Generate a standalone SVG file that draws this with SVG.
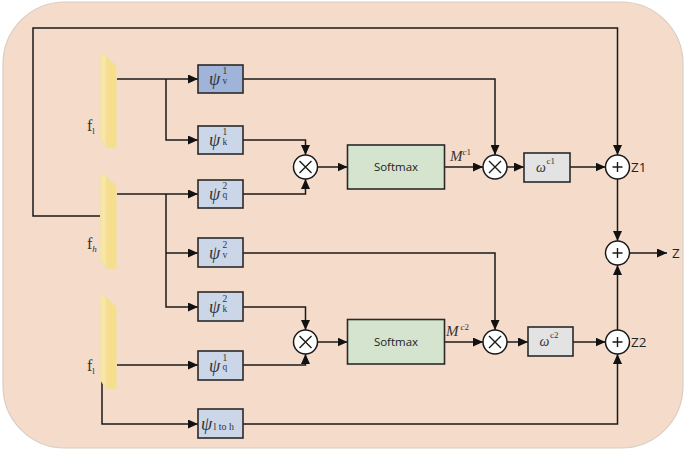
<svg xmlns="http://www.w3.org/2000/svg" width="685" height="451" viewBox="0 0 685 451">
<defs>
<marker id="ah" markerUnits="userSpaceOnUse" markerWidth="10" markerHeight="9" refX="10" refY="4.5" orient="auto" viewBox="0 0 10 9">
<path d="M0,0 L10,4.5 L0,9 Z" fill="#111"/>
</marker>
<style>
.bg{fill:#f5dbca;stroke:#d9cdc4;stroke-width:1.2}
.slab{fill:#f6de8c;stroke:#efe0ad;stroke-width:1}
.slabface{fill:#f9e6a2;stroke:#efe0ad;stroke-width:1}
.psi{fill:#cbd7e8;stroke:#2a2a2a;stroke-width:1.6}
.psid{fill:#9fb4d8;stroke:#2a2a2a;stroke-width:1.6}
.soft{fill:#d5e4cf;stroke:#2a2a2a;stroke-width:1.6}
.om{fill:#e3e3e3;stroke:#2a2a2a;stroke-width:1.6}
.op{fill:#fff;stroke:#1a1a1a;stroke-width:1.5}
.sym{stroke:#1a1a1a;stroke-width:1.4;fill:none}
.c{fill:none;stroke:#1a1a1a;stroke-width:1.5}
.a{marker-end:url(#ah)}
.g{font-family:"Liberation Serif",serif;fill:#333}
.gi{font-family:"Liberation Serif",serif;font-style:italic;fill:#333}
.p{font-family:"Liberation Serif",serif;font-style:italic;fill:#333;font-size:18px}
.sc{font-family:"Liberation Serif",serif;fill:#333;font-size:9.5px}
.s{font-family:"Open Sans","Liberation Sans",sans-serif;fill:#222}
</style>
</defs>
<rect class="bg" x="3" y="2" width="680" height="446" rx="62" ry="62"/>

<g id="connectors">
<polyline class="c a" points="101,216 33,216 33,28 617.5,28 617.5,155"/>
<polyline class="c a" points="116.5,79 198,79"/>
<polyline class="c a" points="166,79 166,140 198,140"/>
<polyline class="c a" points="116.5,194 198,194"/>
<polyline class="c a" points="166,194 166,307 198,307"/>
<polyline class="c a" points="166,253 198,253"/>
<polyline class="c a" points="243,79 495,79 495,155"/>
<polyline class="c a" points="243,140 305.5,140 305.5,155"/>
<polyline class="c a" points="243,194 305.5,194 305.5,179"/>
<polyline class="c a" points="317.5,167 347.5,167"/>
<polyline class="c a" points="444.5,167 483,167"/>
<polyline class="c a" points="507,167 524,167"/>
<polyline class="c a" points="570,167 605.5,167"/>
<polyline class="c a" points="617.5,179 617.5,241"/>
<polyline class="c a" points="629.5,253 667,253"/>
<polyline class="c a" points="243,253 495,253 495,330"/>
<polyline class="c a" points="243,307 305.5,307 305.5,330"/>
<polyline class="c a" points="243,365 305.5,365 305.5,354"/>
<polyline class="c a" points="317.5,342 347.5,342"/>
<polyline class="c a" points="444.5,342 483,342"/>
<polyline class="c a" points="507,342 528,342"/>
<polyline class="c a" points="573,342 605.5,342"/>
<polyline class="c a" points="617.5,330 617.5,265"/>
<polyline class="c a" points="116.5,365 198,365"/>
<polyline class="c a" points="102,380 102,424 198,424"/>
<polyline class="c a" points="243,424 617.5,424 617.5,354"/>
</g>

<g id="slab-fl-top">
<path class="slab" d="M100.5,54 L106,56 L116.5,66 L116.5,148 L107,148 L100.5,139 Z"/>
<path class="slabface" d="M100.5,54 L106,56 L106,146 L100.5,139 Z"/>
<text class="g" x="87" y="131" font-size="16">f<tspan font-size="9" dy="3">l</tspan></text>
</g>
<g id="slab-fh">
<path class="slab" d="M100.5,174 L106,176 L116.5,186 L116.5,269 L107,269 L100.5,260 Z"/>
<path class="slabface" d="M100.5,174 L106,176 L106,267 L100.5,260 Z"/>
<text class="g" x="87" y="249" font-size="16">f<tspan class="gi" font-size="9" dy="3">h</tspan></text>
</g>
<g id="slab-fl-bottom">
<path class="slab" d="M100.5,295 L106,297 L116.5,307 L116.5,389 L107,389 L100.5,380 Z"/>
<path class="slabface" d="M100.5,295 L106,297 L106,387 L100.5,380 Z"/>
<text class="g" x="87" y="371" font-size="16">f<tspan font-size="9" dy="3">l</tspan></text>
</g>

<g id="psi-v1">
<rect class="psid" x="198" y="65" width="45" height="28"/>
<text class="p" x="209" y="85">ψ</text>
<text class="sc" x="222.5" y="74">1</text>
<text class="sc" x="222.5" y="84">v</text>
</g>
<g id="psi-k1">
<rect class="psi" x="198" y="126" width="45" height="28"/>
<text class="p" x="209" y="146">ψ</text>
<text class="sc" x="222.5" y="135">1</text>
<text class="sc" x="222.5" y="145">k</text>
</g>
<g id="psi-q2">
<rect class="psi" x="198" y="180" width="45" height="28"/>
<text class="p" x="209" y="200">ψ</text>
<text class="sc" x="222.5" y="189">2</text>
<text class="sc" x="222.5" y="198">q</text>
</g>
<g id="psi-v2">
<rect class="psi" x="198" y="238" width="45" height="29"/>
<text class="p" x="209" y="258.5">ψ</text>
<text class="sc" x="222.5" y="247.5">2</text>
<text class="sc" x="222.5" y="257.5">v</text>
</g>
<g id="psi-k2">
<rect class="psi" x="198" y="292" width="45" height="29"/>
<text class="p" x="209" y="312.5">ψ</text>
<text class="sc" x="222.5" y="301.5">2</text>
<text class="sc" x="222.5" y="311.5">k</text>
</g>
<g id="psi-q1">
<rect class="psi" x="198" y="351" width="45" height="29"/>
<text class="p" x="209" y="371.5">ψ</text>
<text class="sc" x="222.5" y="360.5">1</text>
<text class="sc" x="222.5" y="369.5">q</text>
</g>
<g id="psi-ltoh">
<rect class="psi" x="198" y="409" width="45" height="29"/>
<text class="p" x="201" y="429.5">ψ</text>
<text class="g" x="213.5" y="430" font-size="10">l to h</text>
</g>

<g id="mul-1a">
<circle class="op" cx="305.5" cy="167" r="12"/>
<path class="sym" d="M299.5,161 L311.5,173 M311.5,161 L299.5,173"/>
</g>
<g id="softmax-1">
<rect class="soft" x="347.5" y="145" width="97" height="44"/>
<text class="s" x="396" y="171" font-size="11.5" text-anchor="middle">Softmax</text>
</g>
<text class="gi" x="450" y="161" font-size="15">M<tspan font-size="9" dy="-6">c</tspan><tspan class="g" font-style="normal" font-size="9">1</tspan></text>
<g id="mul-1b">
<circle class="op" cx="495" cy="167" r="12"/>
<path class="sym" d="M489,161 L501,173 M501,161 L489,173"/>
</g>
<g id="omega-1">
<rect class="om" x="524" y="153" width="46" height="29"/>
<text class="gi" x="536" y="172" font-size="14">ω</text>
<text class="g" x="546.5" y="164" font-size="9">c1</text>
</g>
<g id="add-z1">
<circle class="op" cx="617.5" cy="167" r="12"/>
<path class="sym" d="M612.5,167 L622.5,167 M617.5,162 L617.5,172"/>
<text class="s" x="631" y="172" font-size="13.5">Z1</text>
</g>
<g id="add-z">
<circle class="op" cx="617.5" cy="253" r="12"/>
<path class="sym" d="M612.5,253 L622.5,253 M617.5,248 L617.5,258"/>
<text class="s" x="672" y="258" font-size="13.5">Z</text>
</g>

<g id="mul-2a">
<circle class="op" cx="305.5" cy="342" r="12"/>
<path class="sym" d="M299.5,336 L311.5,348 M311.5,336 L299.5,348"/>
</g>
<g id="softmax-2">
<rect class="soft" x="347.5" y="319.5" width="97" height="44.5"/>
<text class="s" x="396" y="346" font-size="11.5" text-anchor="middle">Softmax</text>
</g>
<text class="gi" x="446" y="336" font-size="15">M<tspan font-size="9" dy="-6" dx="2">c</tspan><tspan class="g" font-style="normal" font-size="9">2</tspan></text>
<g id="mul-2b">
<circle class="op" cx="495" cy="342" r="12"/>
<path class="sym" d="M489,336 L501,348 M501,336 L489,348"/>
</g>
<g id="omega-2">
<rect class="om" x="528" y="327" width="45" height="29"/>
<text class="gi" x="539.5" y="346" font-size="14">ω</text>
<text class="g" x="550" y="338" font-size="9">c2</text>
</g>
<g id="add-z2">
<circle class="op" cx="617.5" cy="342" r="12"/>
<path class="sym" d="M612.5,342 L622.5,342 M617.5,337 L617.5,347"/>
<text class="s" x="631" y="347" font-size="13.5">Z2</text>
</g>
</svg>
